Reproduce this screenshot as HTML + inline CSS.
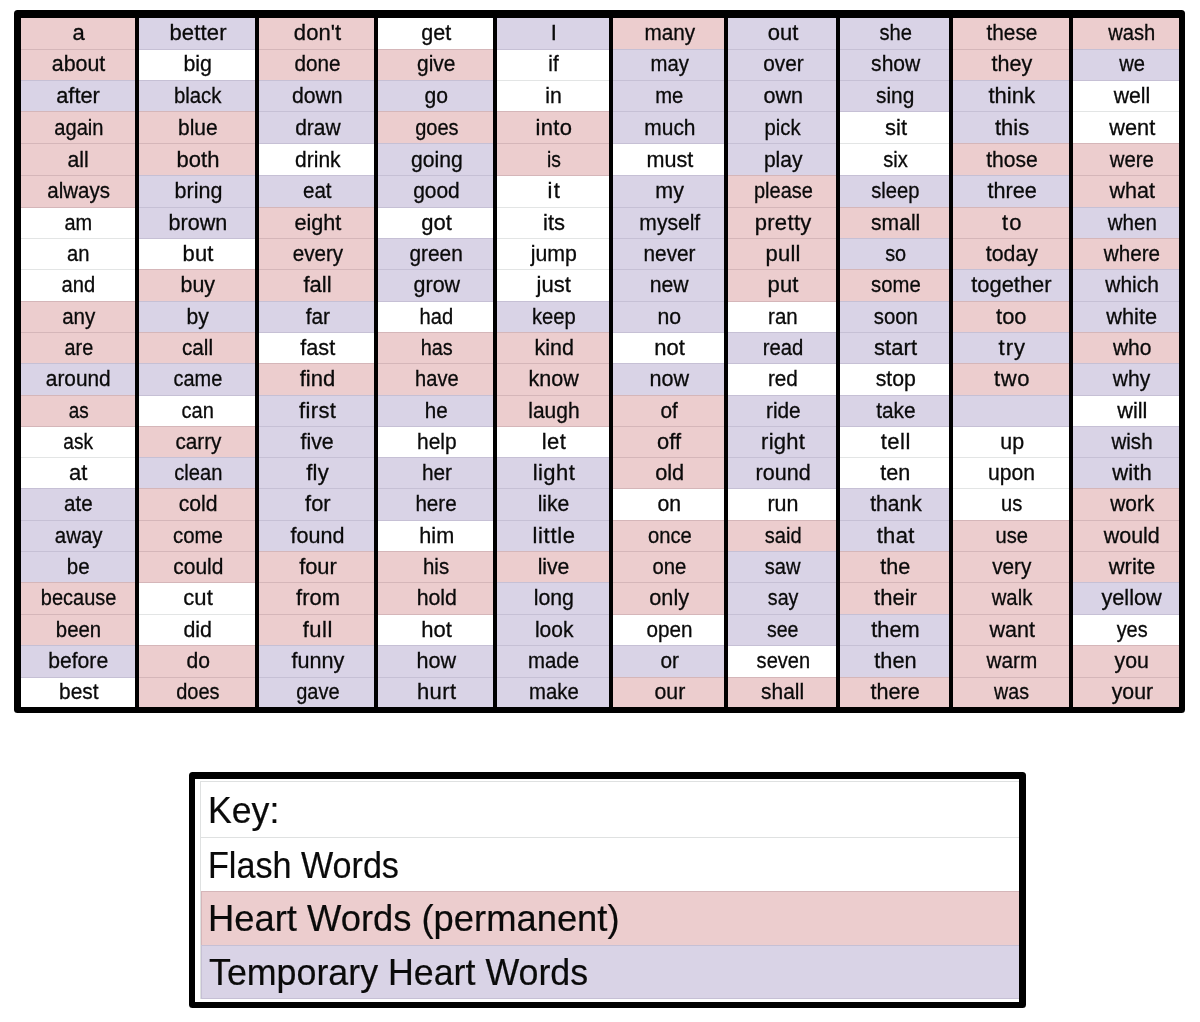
<!DOCTYPE html>
<html><head><meta charset="utf-8"><style>
html,body{margin:0;padding:0;background:#fff;width:1200px;height:1022px;overflow:hidden}
body{position:relative;will-change:transform;font-family:"Liberation Sans",sans-serif;color:#0a0a0a}
.frame{position:absolute;left:14px;top:10px;width:1171px;height:703px;background:#000;border-radius:3.5px}
.c{position:absolute;display:flex;align-items:center;justify-content:center;font-size:22px;overflow:hidden}
.c span{display:block;-webkit-text-stroke:0.3px #0a0a0a;white-space:nowrap;line-height:1;position:relative;top:0px}
.c i{position:absolute;left:0;right:0;top:0;height:1px}
.key{position:absolute;left:189px;top:772px;width:837px;height:236px;background:#000;border-radius:3.5px}
.kin{position:absolute;left:195px;top:779px;width:824px;height:223px;background:#fff}
.kr{position:absolute;left:201px;width:818px;font-size:36px;line-height:1;box-sizing:border-box}
.kr span{-webkit-text-stroke:0.2px #0a0a0a;position:absolute;left:7px;white-space:nowrap;transform-origin:0 50%}
</style></head><body>
<div class="frame"></div>
<div class="c" style="left:21px;top:18.00px;width:114px;height:31.00px;background:#eccdce"><span style="left:0.5px;top:-0.15px;transform:scaleX(1.000)">a</span></div><div class="c" style="left:21px;top:49.00px;width:114px;height:31.00px;background:#eccdce"><span style="left:0.5px;top:-0.05px;transform:scaleX(0.973)">about</span><i style="background:#d5b6b9"></i></div><div class="c" style="left:21px;top:80.00px;width:114px;height:31.00px;background:#d9d3e6"><span style="left:0.5px;top:0.15px;transform:scaleX(0.990)">after</span><i style="background:#c6c0d5"></i></div><div class="c" style="left:21px;top:111.00px;width:114px;height:32.00px;background:#eccdce"><span style="left:0.5px;top:0.50px;transform:scaleX(0.914)">again</span><i style="background:#d5b6b9"></i></div><div class="c" style="left:21px;top:143.00px;width:114px;height:32.00px;background:#eccdce"><span style="left:0.5px;top:0.55px;transform:scaleX(0.964)">all</span><i style="background:#d5b6b9"></i></div><div class="c" style="left:21px;top:175.00px;width:114px;height:32.00px;background:#eccdce"><span style="left:0.5px;top:0.10px;transform:scaleX(0.933)">always</span><i style="background:#d5b6b9"></i></div><div class="c" style="left:21px;top:207.00px;width:114px;height:31.00px;background:#ffffff"><span style="left:0.5px;top:0.00px;transform:scaleX(0.906)">am</span><i style="background:#d5b6b9"></i></div><div class="c" style="left:21px;top:238.00px;width:114px;height:31.00px;background:#ffffff"><span style="left:0.5px;top:0.30px;transform:scaleX(0.918)">an</span><i style="background:#e3e5e5"></i></div><div class="c" style="left:21px;top:269.00px;width:114px;height:32.00px;background:#ffffff"><span style="left:0.5px;top:0.20px;transform:scaleX(0.916)">and</span><i style="background:#e3e5e5"></i></div><div class="c" style="left:21px;top:301.00px;width:114px;height:31.00px;background:#eccdce"><span style="left:0.5px;top:0.12px;transform:scaleX(0.935)">any</span><i style="background:#d5b6b9"></i></div><div class="c" style="left:21px;top:332.00px;width:114px;height:31.00px;background:#eccdce"><span style="left:0.5px;top:0.48px;transform:scaleX(0.898)">are</span><i style="background:#d5b6b9"></i></div><div class="c" style="left:21px;top:363.00px;width:114px;height:32.00px;background:#d9d3e6"><span style="left:0.5px;top:0.30px;transform:scaleX(0.947)">around</span><i style="background:#c6c0d5"></i></div><div class="c" style="left:21px;top:395.00px;width:114px;height:31.00px;background:#eccdce"><span style="left:0.5px;top:0.05px;transform:scaleX(0.860)">as</span><i style="background:#d5b6b9"></i></div><div class="c" style="left:21px;top:426.00px;width:114px;height:31.00px;background:#ffffff"><span style="left:0.5px;top:0.15px;transform:scaleX(0.867)">ask</span><i style="background:#d5b6b9"></i></div><div class="c" style="left:21px;top:457.00px;width:114px;height:31.00px;background:#ffffff"><span style="left:0.5px;top:0.38px;transform:scaleX(0.999)">at</span><i style="background:#e3e5e5"></i></div><div class="c" style="left:21px;top:488.00px;width:114px;height:32.00px;background:#d9d3e6"><span style="left:0.5px;top:0.33px;transform:scaleX(0.934)">ate</span><i style="background:#c6c0d5"></i></div><div class="c" style="left:21px;top:520.00px;width:114px;height:31.00px;background:#d9d3e6"><span style="left:0.5px;top:0.20px;transform:scaleX(0.928)">away</span><i style="background:#c6c0d5"></i></div><div class="c" style="left:21px;top:551.00px;width:114px;height:31.00px;background:#d9d3e6"><span style="left:0.5px;top:0.50px;transform:scaleX(0.931)">be</span><i style="background:#c6c0d5"></i></div><div class="c" style="left:21px;top:582.00px;width:114px;height:32.00px;background:#eccdce"><span style="left:0.5px;top:0.25px;transform:scaleX(0.907)">because</span><i style="background:#d5b6b9"></i></div><div class="c" style="left:21px;top:614.00px;width:114px;height:31.00px;background:#eccdce"><span style="left:0.5px;top:0.05px;transform:scaleX(0.925)">been</span><i style="background:#d5b6b9"></i></div><div class="c" style="left:21px;top:645.00px;width:114px;height:32.00px;background:#d9d3e6"><span style="left:0.5px;top:0.05px;transform:scaleX(0.961)">before</span><i style="background:#c6c0d5"></i></div><div class="c" style="left:21px;top:677.00px;width:114px;height:30.00px;background:#ffffff"><span style="left:0.5px;top:-0.15px;transform:scaleX(0.950)">best</span><i style="background:#c6c0d5"></i></div><div class="c" style="left:139px;top:18.00px;width:116px;height:31.00px;background:#d9d3e6"><span style="left:1px;top:-0.15px;letter-spacing:0.19px;margin-right:-0.19px">better</span></div><div class="c" style="left:139px;top:49.00px;width:116px;height:31.00px;background:#ffffff"><span style="left:1px;top:-0.05px;transform:scaleX(0.972)">big</span><i style="background:#c6c0d5"></i></div><div class="c" style="left:139px;top:80.00px;width:116px;height:31.00px;background:#d9d3e6"><span style="left:1px;top:0.15px;transform:scaleX(0.925)">black</span><i style="background:#c6c0d5"></i></div><div class="c" style="left:139px;top:111.00px;width:116px;height:32.00px;background:#eccdce"><span style="left:1px;top:0.50px;transform:scaleX(0.951)">blue</span><i style="background:#d5b6b9"></i></div><div class="c" style="left:139px;top:143.00px;width:116px;height:32.00px;background:#eccdce"><span style="left:1px;top:0.55px;letter-spacing:0.00px;margin-right:-0.00px">both</span><i style="background:#d5b6b9"></i></div><div class="c" style="left:139px;top:175.00px;width:116px;height:32.00px;background:#d9d3e6"><span style="left:1px;top:0.10px;transform:scaleX(0.978)">bring</span><i style="background:#c6c0d5"></i></div><div class="c" style="left:139px;top:207.00px;width:116px;height:31.00px;background:#d9d3e6"><span style="left:1px;top:0.00px;transform:scaleX(0.980)">brown</span><i style="background:#c6c0d5"></i></div><div class="c" style="left:139px;top:238.00px;width:116px;height:31.00px;background:#ffffff"><span style="left:1px;top:0.30px;letter-spacing:0.16px;margin-right:-0.16px">but</span><i style="background:#c6c0d5"></i></div><div class="c" style="left:139px;top:269.00px;width:116px;height:32.00px;background:#eccdce"><span style="left:1px;top:0.20px;transform:scaleX(0.974)">buy</span><i style="background:#d5b6b9"></i></div><div class="c" style="left:139px;top:301.00px;width:116px;height:31.00px;background:#d9d3e6"><span style="left:1px;top:0.12px;transform:scaleX(0.961)">by</span><i style="background:#c6c0d5"></i></div><div class="c" style="left:139px;top:332.00px;width:116px;height:31.00px;background:#eccdce"><span style="left:1px;top:0.48px;transform:scaleX(0.942)">call</span><i style="background:#d5b6b9"></i></div><div class="c" style="left:139px;top:363.00px;width:116px;height:32.00px;background:#d9d3e6"><span style="left:1px;top:0.30px;transform:scaleX(0.906)">came</span><i style="background:#c6c0d5"></i></div><div class="c" style="left:139px;top:395.00px;width:116px;height:31.00px;background:#ffffff"><span style="left:1px;top:0.05px;transform:scaleX(0.912)">can</span><i style="background:#c6c0d5"></i></div><div class="c" style="left:139px;top:426.00px;width:116px;height:31.00px;background:#eccdce"><span style="left:1px;top:0.15px;transform:scaleX(0.941)">carry</span><i style="background:#d5b6b9"></i></div><div class="c" style="left:139px;top:457.00px;width:116px;height:31.00px;background:#d9d3e6"><span style="left:1px;top:0.38px;transform:scaleX(0.914)">clean</span><i style="background:#c6c0d5"></i></div><div class="c" style="left:139px;top:488.00px;width:116px;height:32.00px;background:#eccdce"><span style="left:1px;top:0.33px;transform:scaleX(0.963)">cold</span><i style="background:#d5b6b9"></i></div><div class="c" style="left:139px;top:520.00px;width:116px;height:31.00px;background:#eccdce"><span style="left:1px;top:0.20px;transform:scaleX(0.927)">come</span><i style="background:#d5b6b9"></i></div><div class="c" style="left:139px;top:551.00px;width:116px;height:31.00px;background:#eccdce"><span style="left:1px;top:0.50px;transform:scaleX(0.953)">could</span><i style="background:#d5b6b9"></i></div><div class="c" style="left:139px;top:582.00px;width:116px;height:32.00px;background:#ffffff"><span style="left:1px;top:0.25px;letter-spacing:0.16px;margin-right:-0.16px">cut</span><i style="background:#d5b6b9"></i></div><div class="c" style="left:139px;top:614.00px;width:116px;height:31.00px;background:#ffffff"><span style="left:1px;top:0.05px;transform:scaleX(0.972)">did</span><i style="background:#e3e5e5"></i></div><div class="c" style="left:139px;top:645.00px;width:116px;height:32.00px;background:#eccdce"><span style="left:1px;top:0.05px;transform:scaleX(0.961)">do</span><i style="background:#d5b6b9"></i></div><div class="c" style="left:139px;top:677.00px;width:116px;height:30.00px;background:#eccdce"><span style="left:1px;top:-0.15px;transform:scaleX(0.909)">does</span><i style="background:#d5b6b9"></i></div><div class="c" style="left:259px;top:18.00px;width:115px;height:31.00px;background:#eccdce"><span style="left:1px;top:-0.15px;letter-spacing:0.08px;margin-right:-0.08px">don't</span></div><div class="c" style="left:259px;top:49.00px;width:115px;height:31.00px;background:#eccdce"><span style="left:1px;top:-0.05px;transform:scaleX(0.939)">done</span><i style="background:#d5b6b9"></i></div><div class="c" style="left:259px;top:80.00px;width:115px;height:31.00px;background:#d9d3e6"><span style="left:1px;top:0.15px;transform:scaleX(0.964)">down</span><i style="background:#c6c0d5"></i></div><div class="c" style="left:259px;top:111.00px;width:115px;height:32.00px;background:#d9d3e6"><span style="left:1px;top:0.50px;transform:scaleX(0.952)">draw</span><i style="background:#c6c0d5"></i></div><div class="c" style="left:259px;top:143.00px;width:115px;height:32.00px;background:#ffffff"><span style="left:1px;top:0.55px;transform:scaleX(0.954)">drink</span><i style="background:#c6c0d5"></i></div><div class="c" style="left:259px;top:175.00px;width:115px;height:32.00px;background:#d9d3e6"><span style="left:1px;top:0.10px;transform:scaleX(0.934)">eat</span><i style="background:#c6c0d5"></i></div><div class="c" style="left:259px;top:207.00px;width:115px;height:31.00px;background:#eccdce"><span style="left:1px;top:0.00px;transform:scaleX(0.983)">eight</span><i style="background:#d5b6b9"></i></div><div class="c" style="left:259px;top:238.00px;width:115px;height:31.00px;background:#eccdce"><span style="left:1px;top:0.30px;transform:scaleX(0.937)">every</span><i style="background:#d5b6b9"></i></div><div class="c" style="left:259px;top:269.00px;width:115px;height:32.00px;background:#eccdce"><span style="left:1px;top:0.20px;letter-spacing:0.02px;margin-right:-0.02px">fall</span><i style="background:#d5b6b9"></i></div><div class="c" style="left:259px;top:301.00px;width:115px;height:31.00px;background:#d9d3e6"><span style="left:1px;top:0.12px;transform:scaleX(0.947)">far</span><i style="background:#c6c0d5"></i></div><div class="c" style="left:259px;top:332.00px;width:115px;height:31.00px;background:#ffffff"><span style="left:1px;top:0.48px;transform:scaleX(0.983)">fast</span><i style="background:#c6c0d5"></i></div><div class="c" style="left:259px;top:363.00px;width:115px;height:32.00px;background:#eccdce"><span style="left:1px;top:0.30px;letter-spacing:0.04px;margin-right:-0.04px">find</span><i style="background:#d5b6b9"></i></div><div class="c" style="left:259px;top:395.00px;width:115px;height:31.00px;background:#d9d3e6"><span style="left:1px;top:0.05px;letter-spacing:0.39px;margin-right:-0.39px">first</span><i style="background:#c6c0d5"></i></div><div class="c" style="left:259px;top:426.00px;width:115px;height:31.00px;background:#d9d3e6"><span style="left:1px;top:0.15px;transform:scaleX(0.969)">five</span><i style="background:#c6c0d5"></i></div><div class="c" style="left:259px;top:457.00px;width:115px;height:31.00px;background:#d9d3e6"><span style="left:1px;top:0.38px;letter-spacing:0.32px;margin-right:-0.32px">fly</span><i style="background:#c6c0d5"></i></div><div class="c" style="left:259px;top:488.00px;width:115px;height:32.00px;background:#d9d3e6"><span style="left:1px;top:0.33px;transform:scaleX(0.991)">for</span><i style="background:#c6c0d5"></i></div><div class="c" style="left:259px;top:520.00px;width:115px;height:31.00px;background:#d9d3e6"><span style="left:1px;top:0.20px;transform:scaleX(0.979)">found</span><i style="background:#c6c0d5"></i></div><div class="c" style="left:259px;top:551.00px;width:115px;height:31.00px;background:#eccdce"><span style="left:1px;top:0.50px;transform:scaleX(0.993)">four</span><i style="background:#d5b6b9"></i></div><div class="c" style="left:259px;top:582.00px;width:115px;height:32.00px;background:#eccdce"><span style="left:1px;top:0.25px;transform:scaleX(0.996)">from</span><i style="background:#d5b6b9"></i></div><div class="c" style="left:259px;top:614.00px;width:115px;height:31.00px;background:#eccdce"><span style="left:1px;top:0.05px;letter-spacing:0.50px;margin-right:-0.50px">full</span><i style="background:#d5b6b9"></i></div><div class="c" style="left:259px;top:645.00px;width:115px;height:32.00px;background:#d9d3e6"><span style="left:1px;top:0.05px;transform:scaleX(0.982)">funny</span><i style="background:#c6c0d5"></i></div><div class="c" style="left:259px;top:677.00px;width:115px;height:30.00px;background:#d9d3e6"><span style="left:1px;top:-0.15px;transform:scaleX(0.908)">gave</span><i style="background:#c6c0d5"></i></div><div class="c" style="left:378px;top:18.00px;width:115px;height:31.00px;background:#ffffff"><span style="left:1px;top:-0.15px;transform:scaleX(0.978)">get</span></div><div class="c" style="left:378px;top:49.00px;width:115px;height:31.00px;background:#eccdce"><span style="left:1px;top:-0.05px;transform:scaleX(0.949)">give</span><i style="background:#d5b6b9"></i></div><div class="c" style="left:378px;top:80.00px;width:115px;height:31.00px;background:#d9d3e6"><span style="left:1px;top:0.15px;transform:scaleX(0.961)">go</span><i style="background:#c6c0d5"></i></div><div class="c" style="left:378px;top:111.00px;width:115px;height:32.00px;background:#eccdce"><span style="left:1px;top:0.50px;transform:scaleX(0.909)">goes</span><i style="background:#d5b6b9"></i></div><div class="c" style="left:378px;top:143.00px;width:115px;height:32.00px;background:#d9d3e6"><span style="left:1px;top:0.55px;transform:scaleX(0.960)">going</span><i style="background:#c6c0d5"></i></div><div class="c" style="left:378px;top:175.00px;width:115px;height:32.00px;background:#d9d3e6"><span style="left:1px;top:0.10px;transform:scaleX(0.951)">good</span><i style="background:#c6c0d5"></i></div><div class="c" style="left:378px;top:207.00px;width:115px;height:31.00px;background:#ffffff"><span style="left:1px;top:0.00px;letter-spacing:0.01px;margin-right:-0.01px">got</span><i style="background:#c6c0d5"></i></div><div class="c" style="left:378px;top:238.00px;width:115px;height:31.00px;background:#d9d3e6"><span style="left:1px;top:0.30px;transform:scaleX(0.947)">green</span><i style="background:#c6c0d5"></i></div><div class="c" style="left:378px;top:269.00px;width:115px;height:32.00px;background:#d9d3e6"><span style="left:1px;top:0.20px;transform:scaleX(0.976)">grow</span><i style="background:#c6c0d5"></i></div><div class="c" style="left:378px;top:301.00px;width:115px;height:31.00px;background:#ffffff"><span style="left:1px;top:0.12px;transform:scaleX(0.916)">had</span><i style="background:#c6c0d5"></i></div><div class="c" style="left:378px;top:332.00px;width:115px;height:31.00px;background:#eccdce"><span style="left:1px;top:0.48px;transform:scaleX(0.903)">has</span><i style="background:#d5b6b9"></i></div><div class="c" style="left:378px;top:363.00px;width:115px;height:32.00px;background:#eccdce"><span style="left:1px;top:0.30px;transform:scaleX(0.911)">have</span><i style="background:#d5b6b9"></i></div><div class="c" style="left:378px;top:395.00px;width:115px;height:31.00px;background:#d9d3e6"><span style="left:1px;top:0.05px;transform:scaleX(0.936)">he</span><i style="background:#c6c0d5"></i></div><div class="c" style="left:378px;top:426.00px;width:115px;height:31.00px;background:#ffffff"><span style="left:1px;top:0.15px;transform:scaleX(0.951)">help</span><i style="background:#c6c0d5"></i></div><div class="c" style="left:378px;top:457.00px;width:115px;height:31.00px;background:#d9d3e6"><span style="left:1px;top:0.38px;transform:scaleX(0.944)">her</span><i style="background:#c6c0d5"></i></div><div class="c" style="left:378px;top:488.00px;width:115px;height:32.00px;background:#d9d3e6"><span style="left:1px;top:0.33px;transform:scaleX(0.936)">here</span><i style="background:#c6c0d5"></i></div><div class="c" style="left:378px;top:520.00px;width:115px;height:31.00px;background:#ffffff"><span style="left:1px;top:0.20px;transform:scaleX(0.984)">him</span><i style="background:#c6c0d5"></i></div><div class="c" style="left:378px;top:551.00px;width:115px;height:31.00px;background:#eccdce"><span style="left:1px;top:0.50px;transform:scaleX(0.928)">his</span><i style="background:#d5b6b9"></i></div><div class="c" style="left:378px;top:582.00px;width:115px;height:32.00px;background:#eccdce"><span style="left:1px;top:0.25px;transform:scaleX(0.968)">hold</span><i style="background:#d5b6b9"></i></div><div class="c" style="left:378px;top:614.00px;width:115px;height:31.00px;background:#ffffff"><span style="left:1px;top:0.05px;letter-spacing:0.06px;margin-right:-0.06px">hot</span><i style="background:#d5b6b9"></i></div><div class="c" style="left:378px;top:645.00px;width:115px;height:32.00px;background:#d9d3e6"><span style="left:1px;top:0.05px;transform:scaleX(0.980)">how</span><i style="background:#c6c0d5"></i></div><div class="c" style="left:378px;top:677.00px;width:115px;height:30.00px;background:#d9d3e6"><span style="left:1px;top:-0.15px;letter-spacing:0.39px;margin-right:-0.39px">hurt</span><i style="background:#c6c0d5"></i></div><div class="c" style="left:496.5px;top:18.00px;width:112.5px;height:31.00px;background:#d9d3e6"><span style="left:1px;top:-0.15px;transform:scaleX(1.000)">I</span></div><div class="c" style="left:496.5px;top:49.00px;width:112.5px;height:31.00px;background:#ffffff"><span style="left:1px;top:-0.05px;transform:scaleX(0.937)">if</span><i style="background:#c6c0d5"></i></div><div class="c" style="left:496.5px;top:80.00px;width:112.5px;height:31.00px;background:#ffffff"><span style="left:1px;top:0.15px;transform:scaleX(0.965)">in</span><i style="background:#e3e5e5"></i></div><div class="c" style="left:496.5px;top:111.00px;width:112.5px;height:32.00px;background:#eccdce"><span style="left:1px;top:0.50px;letter-spacing:0.34px;margin-right:-0.34px">into</span><i style="background:#d5b6b9"></i></div><div class="c" style="left:496.5px;top:143.00px;width:112.5px;height:32.00px;background:#eccdce"><span style="left:1px;top:0.55px;transform:scaleX(0.876)">is</span><i style="background:#d5b6b9"></i></div><div class="c" style="left:496.5px;top:175.00px;width:112.5px;height:32.00px;background:#ffffff"><span style="left:1px;top:0.10px;letter-spacing:1.37px;margin-right:-1.37px">it</span><i style="background:#d5b6b9"></i></div><div class="c" style="left:496.5px;top:207.00px;width:112.5px;height:31.00px;background:#ffffff"><span style="left:1px;top:0.00px;transform:scaleX(0.998)">its</span><i style="background:#e3e5e5"></i></div><div class="c" style="left:496.5px;top:238.00px;width:112.5px;height:31.00px;background:#ffffff"><span style="left:1px;top:0.30px;transform:scaleX(0.969)">jump</span><i style="background:#e3e5e5"></i></div><div class="c" style="left:496.5px;top:269.00px;width:112.5px;height:32.00px;background:#ffffff"><span style="left:1px;top:0.20px;letter-spacing:0.04px;margin-right:-0.04px">just</span><i style="background:#e3e5e5"></i></div><div class="c" style="left:496.5px;top:301.00px;width:112.5px;height:31.00px;background:#d9d3e6"><span style="left:1px;top:0.12px;transform:scaleX(0.917)">keep</span><i style="background:#c6c0d5"></i></div><div class="c" style="left:496.5px;top:332.00px;width:112.5px;height:31.00px;background:#eccdce"><span style="left:1px;top:0.48px;transform:scaleX(0.975)">kind</span><i style="background:#d5b6b9"></i></div><div class="c" style="left:496.5px;top:363.00px;width:112.5px;height:32.00px;background:#eccdce"><span style="left:1px;top:0.30px;transform:scaleX(0.979)">know</span><i style="background:#d5b6b9"></i></div><div class="c" style="left:496.5px;top:395.00px;width:112.5px;height:31.00px;background:#eccdce"><span style="left:1px;top:0.05px;transform:scaleX(0.953)">laugh</span><i style="background:#d5b6b9"></i></div><div class="c" style="left:496.5px;top:426.00px;width:112.5px;height:31.00px;background:#ffffff"><span style="left:1px;top:0.15px;letter-spacing:0.50px;margin-right:-0.50px">let</span><i style="background:#d5b6b9"></i></div><div class="c" style="left:496.5px;top:457.00px;width:112.5px;height:31.00px;background:#d9d3e6"><span style="left:1px;top:0.38px;letter-spacing:0.46px;margin-right:-0.46px">light</span><i style="background:#c6c0d5"></i></div><div class="c" style="left:496.5px;top:488.00px;width:112.5px;height:32.00px;background:#d9d3e6"><span style="left:1px;top:0.33px;transform:scaleX(0.960)">like</span><i style="background:#c6c0d5"></i></div><div class="c" style="left:496.5px;top:520.00px;width:112.5px;height:31.00px;background:#d9d3e6"><span style="left:1px;top:0.20px;letter-spacing:0.69px;margin-right:-0.69px">little</span><i style="background:#c6c0d5"></i></div><div class="c" style="left:496.5px;top:551.00px;width:112.5px;height:31.00px;background:#eccdce"><span style="left:1px;top:0.50px;transform:scaleX(0.960)">live</span><i style="background:#d5b6b9"></i></div><div class="c" style="left:496.5px;top:582.00px;width:112.5px;height:32.00px;background:#d9d3e6"><span style="left:1px;top:0.25px;transform:scaleX(0.968)">long</span><i style="background:#c6c0d5"></i></div><div class="c" style="left:496.5px;top:614.00px;width:112.5px;height:31.00px;background:#d9d3e6"><span style="left:1px;top:0.05px;transform:scaleX(0.955)">look</span><i style="background:#c6c0d5"></i></div><div class="c" style="left:496.5px;top:645.00px;width:112.5px;height:32.00px;background:#d9d3e6"><span style="left:1px;top:0.05px;transform:scaleX(0.926)">made</span><i style="background:#c6c0d5"></i></div><div class="c" style="left:496.5px;top:677.00px;width:112.5px;height:30.00px;background:#d9d3e6"><span style="left:1px;top:-0.15px;transform:scaleX(0.922)">make</span><i style="background:#c6c0d5"></i></div><div class="c" style="left:613px;top:18.00px;width:111px;height:31.00px;background:#eccdce"><span style="left:1px;top:-0.15px;transform:scaleX(0.941)">many</span></div><div class="c" style="left:613px;top:49.00px;width:111px;height:31.00px;background:#d9d3e6"><span style="left:1px;top:-0.05px;transform:scaleX(0.924)">may</span><i style="background:#c6c0d5"></i></div><div class="c" style="left:613px;top:80.00px;width:111px;height:31.00px;background:#d9d3e6"><span style="left:1px;top:0.15px;transform:scaleX(0.920)">me</span><i style="background:#c6c0d5"></i></div><div class="c" style="left:613px;top:111.00px;width:111px;height:32.00px;background:#d9d3e6"><span style="left:1px;top:0.50px;transform:scaleX(0.952)">much</span><i style="background:#c6c0d5"></i></div><div class="c" style="left:613px;top:143.00px;width:111px;height:32.00px;background:#ffffff"><span style="left:1px;top:0.55px;transform:scaleX(0.981)">must</span><i style="background:#c6c0d5"></i></div><div class="c" style="left:613px;top:175.00px;width:111px;height:32.00px;background:#d9d3e6"><span style="left:1px;top:0.10px;transform:scaleX(0.975)">my</span><i style="background:#c6c0d5"></i></div><div class="c" style="left:613px;top:207.00px;width:111px;height:31.00px;background:#d9d3e6"><span style="left:1px;top:0.00px;transform:scaleX(0.957)">myself</span><i style="background:#c6c0d5"></i></div><div class="c" style="left:613px;top:238.00px;width:111px;height:31.00px;background:#d9d3e6"><span style="left:1px;top:0.30px;transform:scaleX(0.943)">never</span><i style="background:#c6c0d5"></i></div><div class="c" style="left:613px;top:269.00px;width:111px;height:32.00px;background:#d9d3e6"><span style="left:1px;top:0.20px;transform:scaleX(0.962)">new</span><i style="background:#c6c0d5"></i></div><div class="c" style="left:613px;top:301.00px;width:111px;height:31.00px;background:#d9d3e6"><span style="left:1px;top:0.12px;transform:scaleX(0.965)">no</span><i style="background:#c6c0d5"></i></div><div class="c" style="left:613px;top:332.00px;width:111px;height:31.00px;background:#ffffff"><span style="left:1px;top:0.48px;letter-spacing:0.06px;margin-right:-0.06px">not</span><i style="background:#c6c0d5"></i></div><div class="c" style="left:613px;top:363.00px;width:111px;height:32.00px;background:#d9d3e6"><span style="left:1px;top:0.30px;transform:scaleX(0.980)">now</span><i style="background:#c6c0d5"></i></div><div class="c" style="left:613px;top:395.00px;width:111px;height:31.00px;background:#eccdce"><span style="left:1px;top:0.05px;transform:scaleX(0.948)">of</span><i style="background:#d5b6b9"></i></div><div class="c" style="left:613px;top:426.00px;width:111px;height:31.00px;background:#eccdce"><span style="left:1px;top:0.15px;transform:scaleX(0.994)">off</span><i style="background:#d5b6b9"></i></div><div class="c" style="left:613px;top:457.00px;width:111px;height:31.00px;background:#eccdce"><span style="left:1px;top:0.38px;transform:scaleX(0.988)">old</span><i style="background:#d5b6b9"></i></div><div class="c" style="left:613px;top:488.00px;width:111px;height:32.00px;background:#ffffff"><span style="left:1px;top:0.33px;transform:scaleX(0.965)">on</span><i style="background:#d5b6b9"></i></div><div class="c" style="left:613px;top:520.00px;width:111px;height:31.00px;background:#eccdce"><span style="left:1px;top:0.20px;transform:scaleX(0.917)">once</span><i style="background:#d5b6b9"></i></div><div class="c" style="left:613px;top:551.00px;width:111px;height:31.00px;background:#eccdce"><span style="left:1px;top:0.50px;transform:scaleX(0.922)">one</span><i style="background:#d5b6b9"></i></div><div class="c" style="left:613px;top:582.00px;width:111px;height:32.00px;background:#eccdce"><span style="left:1px;top:0.25px;transform:scaleX(0.987)">only</span><i style="background:#d5b6b9"></i></div><div class="c" style="left:613px;top:614.00px;width:111px;height:31.00px;background:#ffffff"><span style="left:1px;top:0.05px;transform:scaleX(0.939)">open</span><i style="background:#d5b6b9"></i></div><div class="c" style="left:613px;top:645.00px;width:111px;height:32.00px;background:#d9d3e6"><span style="left:1px;top:0.05px;transform:scaleX(0.946)">or</span><i style="background:#c6c0d5"></i></div><div class="c" style="left:613px;top:677.00px;width:111px;height:30.00px;background:#eccdce"><span style="left:1px;top:-0.15px;transform:scaleX(0.966)">our</span><i style="background:#d5b6b9"></i></div><div class="c" style="left:728px;top:18.00px;width:108px;height:31.00px;background:#d9d3e6"><span style="left:1px;top:-0.15px;letter-spacing:0.06px;margin-right:-0.06px">out</span></div><div class="c" style="left:728px;top:49.00px;width:108px;height:31.00px;background:#d9d3e6"><span style="left:1px;top:-0.05px;transform:scaleX(0.944)">over</span><i style="background:#c6c0d5"></i></div><div class="c" style="left:728px;top:80.00px;width:108px;height:31.00px;background:#d9d3e6"><span style="left:1px;top:0.15px;transform:scaleX(0.980)">own</span><i style="background:#c6c0d5"></i></div><div class="c" style="left:728px;top:111.00px;width:108px;height:32.00px;background:#d9d3e6"><span style="left:1px;top:0.50px;transform:scaleX(0.922)">pick</span><i style="background:#c6c0d5"></i></div><div class="c" style="left:728px;top:143.00px;width:108px;height:32.00px;background:#d9d3e6"><span style="left:1px;top:0.55px;transform:scaleX(0.956)">play</span><i style="background:#c6c0d5"></i></div><div class="c" style="left:728px;top:175.00px;width:108px;height:32.00px;background:#eccdce"><span style="left:1px;top:0.10px;transform:scaleX(0.908)">please</span><i style="background:#d5b6b9"></i></div><div class="c" style="left:728px;top:207.00px;width:108px;height:31.00px;background:#eccdce"><span style="left:1px;top:0.00px;letter-spacing:0.34px;margin-right:-0.34px">pretty</span><i style="background:#d5b6b9"></i></div><div class="c" style="left:728px;top:238.00px;width:108px;height:31.00px;background:#eccdce"><span style="left:1px;top:0.30px;letter-spacing:0.18px;margin-right:-0.18px">pull</span><i style="background:#d5b6b9"></i></div><div class="c" style="left:728px;top:269.00px;width:108px;height:32.00px;background:#eccdce"><span style="left:1px;top:0.20px;letter-spacing:0.16px;margin-right:-0.16px">put</span><i style="background:#d5b6b9"></i></div><div class="c" style="left:728px;top:301.00px;width:108px;height:31.00px;background:#ffffff"><span style="left:1px;top:0.12px;transform:scaleX(0.930)">ran</span><i style="background:#d5b6b9"></i></div><div class="c" style="left:728px;top:332.00px;width:108px;height:31.00px;background:#d9d3e6"><span style="left:1px;top:0.48px;transform:scaleX(0.923)">read</span><i style="background:#c6c0d5"></i></div><div class="c" style="left:728px;top:363.00px;width:108px;height:32.00px;background:#ffffff"><span style="left:1px;top:0.30px;transform:scaleX(0.941)">red</span><i style="background:#c6c0d5"></i></div><div class="c" style="left:728px;top:395.00px;width:108px;height:31.00px;background:#d9d3e6"><span style="left:1px;top:0.05px;transform:scaleX(0.946)">ride</span><i style="background:#c6c0d5"></i></div><div class="c" style="left:728px;top:426.00px;width:108px;height:31.00px;background:#d9d3e6"><span style="left:1px;top:0.15px;letter-spacing:0.25px;margin-right:-0.25px">right</span><i style="background:#c6c0d5"></i></div><div class="c" style="left:728px;top:457.00px;width:108px;height:31.00px;background:#d9d3e6"><span style="left:1px;top:0.38px;transform:scaleX(0.978)">round</span><i style="background:#c6c0d5"></i></div><div class="c" style="left:728px;top:488.00px;width:108px;height:32.00px;background:#ffffff"><span style="left:1px;top:0.33px;transform:scaleX(0.976)">run</span><i style="background:#c6c0d5"></i></div><div class="c" style="left:728px;top:520.00px;width:108px;height:31.00px;background:#eccdce"><span style="left:1px;top:0.20px;transform:scaleX(0.911)">said</span><i style="background:#d5b6b9"></i></div><div class="c" style="left:728px;top:551.00px;width:108px;height:31.00px;background:#d9d3e6"><span style="left:1px;top:0.50px;transform:scaleX(0.914)">saw</span><i style="background:#c6c0d5"></i></div><div class="c" style="left:728px;top:582.00px;width:108px;height:32.00px;background:#d9d3e6"><span style="left:1px;top:0.25px;transform:scaleX(0.893)">say</span><i style="background:#c6c0d5"></i></div><div class="c" style="left:728px;top:614.00px;width:108px;height:31.00px;background:#d9d3e6"><span style="left:1px;top:0.05px;transform:scaleX(0.886)">see</span><i style="background:#c6c0d5"></i></div><div class="c" style="left:728px;top:645.00px;width:108px;height:32.00px;background:#ffffff"><span style="left:1px;top:0.05px;transform:scaleX(0.911)">seven</span><i style="background:#c6c0d5"></i></div><div class="c" style="left:728px;top:677.00px;width:108px;height:30.00px;background:#eccdce"><span style="left:1px;top:-0.15px;transform:scaleX(0.951)">shall</span><i style="background:#d5b6b9"></i></div><div class="c" style="left:840px;top:18.00px;width:109px;height:31.00px;background:#d9d3e6"><span style="left:1px;top:-0.15px;transform:scaleX(0.916)">she</span></div><div class="c" style="left:840px;top:49.00px;width:109px;height:31.00px;background:#d9d3e6"><span style="left:1px;top:-0.05px;transform:scaleX(0.957)">show</span><i style="background:#c6c0d5"></i></div><div class="c" style="left:840px;top:80.00px;width:109px;height:31.00px;background:#d9d3e6"><span style="left:1px;top:0.15px;transform:scaleX(0.947)">sing</span><i style="background:#c6c0d5"></i></div><div class="c" style="left:840px;top:111.00px;width:109px;height:32.00px;background:#ffffff"><span style="left:1px;top:0.50px;transform:scaleX(0.998)">sit</span><i style="background:#c6c0d5"></i></div><div class="c" style="left:840px;top:143.00px;width:109px;height:32.00px;background:#ffffff"><span style="left:1px;top:0.55px;transform:scaleX(0.913)">six</span><i style="background:#e3e5e5"></i></div><div class="c" style="left:840px;top:175.00px;width:109px;height:32.00px;background:#d9d3e6"><span style="left:1px;top:0.10px;transform:scaleX(0.915)">sleep</span><i style="background:#c6c0d5"></i></div><div class="c" style="left:840px;top:207.00px;width:109px;height:31.00px;background:#eccdce"><span style="left:1px;top:0.00px;transform:scaleX(0.958)">small</span><i style="background:#d5b6b9"></i></div><div class="c" style="left:840px;top:238.00px;width:109px;height:31.00px;background:#d9d3e6"><span style="left:1px;top:0.30px;transform:scaleX(0.903)">so</span><i style="background:#c6c0d5"></i></div><div class="c" style="left:840px;top:269.00px;width:109px;height:32.00px;background:#eccdce"><span style="left:1px;top:0.20px;transform:scaleX(0.922)">some</span><i style="background:#d5b6b9"></i></div><div class="c" style="left:840px;top:301.00px;width:109px;height:31.00px;background:#d9d3e6"><span style="left:1px;top:0.12px;transform:scaleX(0.926)">soon</span><i style="background:#c6c0d5"></i></div><div class="c" style="left:840px;top:332.00px;width:109px;height:31.00px;background:#d9d3e6"><span style="left:1px;top:0.48px;letter-spacing:0.07px;margin-right:-0.07px">start</span><i style="background:#c6c0d5"></i></div><div class="c" style="left:840px;top:363.00px;width:109px;height:32.00px;background:#ffffff"><span style="left:1px;top:0.30px;transform:scaleX(0.967)">stop</span><i style="background:#c6c0d5"></i></div><div class="c" style="left:840px;top:395.00px;width:109px;height:31.00px;background:#d9d3e6"><span style="left:1px;top:0.05px;transform:scaleX(0.945)">take</span><i style="background:#c6c0d5"></i></div><div class="c" style="left:840px;top:426.00px;width:109px;height:31.00px;background:#ffffff"><span style="left:1px;top:0.15px;letter-spacing:0.53px;margin-right:-0.53px">tell</span><i style="background:#c6c0d5"></i></div><div class="c" style="left:840px;top:457.00px;width:109px;height:31.00px;background:#ffffff"><span style="left:1px;top:0.38px;transform:scaleX(0.981)">ten</span><i style="background:#e3e5e5"></i></div><div class="c" style="left:840px;top:488.00px;width:109px;height:32.00px;background:#d9d3e6"><span style="left:1px;top:0.33px;transform:scaleX(0.958)">thank</span><i style="background:#c6c0d5"></i></div><div class="c" style="left:840px;top:520.00px;width:109px;height:31.00px;background:#d9d3e6"><span style="left:1px;top:0.20px;letter-spacing:0.31px;margin-right:-0.31px">that</span><i style="background:#c6c0d5"></i></div><div class="c" style="left:840px;top:551.00px;width:109px;height:31.00px;background:#eccdce"><span style="left:1px;top:0.50px;transform:scaleX(0.981)">the</span><i style="background:#d5b6b9"></i></div><div class="c" style="left:840px;top:582.00px;width:109px;height:32.00px;background:#eccdce"><span style="left:1px;top:0.25px;letter-spacing:0.02px;margin-right:-0.02px">their</span><i style="background:#d5b6b9"></i></div><div class="c" style="left:840px;top:614.00px;width:109px;height:31.00px;background:#d9d3e6"><span style="left:1px;top:0.05px;transform:scaleX(0.989)">them</span><i style="background:#c6c0d5"></i></div><div class="c" style="left:840px;top:645.00px;width:109px;height:32.00px;background:#d9d3e6"><span style="left:1px;top:0.05px;transform:scaleX(0.986)">then</span><i style="background:#c6c0d5"></i></div><div class="c" style="left:840px;top:677.00px;width:109px;height:30.00px;background:#eccdce"><span style="left:1px;top:-0.15px;transform:scaleX(0.982)">there</span><i style="background:#d5b6b9"></i></div><div class="c" style="left:952.5px;top:18.00px;width:116.5px;height:31.00px;background:#eccdce"><span style="left:1px;top:-0.15px;transform:scaleX(0.944)">these</span></div><div class="c" style="left:952.5px;top:49.00px;width:116.5px;height:31.00px;background:#eccdce"><span style="left:1px;top:-0.05px;transform:scaleX(0.979)">they</span><i style="background:#d5b6b9"></i></div><div class="c" style="left:952.5px;top:80.00px;width:116.5px;height:31.00px;background:#d9d3e6"><span style="left:1px;top:0.15px;letter-spacing:0.02px;margin-right:-0.02px">think</span><i style="background:#c6c0d5"></i></div><div class="c" style="left:952.5px;top:111.00px;width:116.5px;height:32.00px;background:#d9d3e6"><span style="left:1px;top:0.50px;transform:scaleX(0.999)">this</span><i style="background:#c6c0d5"></i></div><div class="c" style="left:952.5px;top:143.00px;width:116.5px;height:32.00px;background:#eccdce"><span style="left:1px;top:0.55px;transform:scaleX(0.957)">those</span><i style="background:#d5b6b9"></i></div><div class="c" style="left:952.5px;top:175.00px;width:116.5px;height:32.00px;background:#d9d3e6"><span style="left:1px;top:0.10px;transform:scaleX(0.982)">three</span><i style="background:#c6c0d5"></i></div><div class="c" style="left:952.5px;top:207.00px;width:116.5px;height:31.00px;background:#eccdce"><span style="left:1px;top:0.00px;letter-spacing:1.13px;margin-right:-1.13px">to</span><i style="background:#d5b6b9"></i></div><div class="c" style="left:952.5px;top:238.00px;width:116.5px;height:31.00px;background:#eccdce"><span style="left:1px;top:0.30px;transform:scaleX(0.968)">today</span><i style="background:#d5b6b9"></i></div><div class="c" style="left:952.5px;top:269.00px;width:116.5px;height:32.00px;background:#d9d3e6"><span style="left:1px;top:0.20px;transform:scaleX(0.995)">together</span><i style="background:#c6c0d5"></i></div><div class="c" style="left:952.5px;top:301.00px;width:116.5px;height:31.00px;background:#eccdce"><span style="left:1px;top:0.12px;transform:scaleX(0.994)">too</span><i style="background:#d5b6b9"></i></div><div class="c" style="left:952.5px;top:332.00px;width:116.5px;height:31.00px;background:#d9d3e6"><span style="left:1px;top:0.48px;letter-spacing:0.96px;margin-right:-0.96px">try</span><i style="background:#c6c0d5"></i></div><div class="c" style="left:952.5px;top:363.00px;width:116.5px;height:32.00px;background:#eccdce"><span style="left:1px;top:0.30px;letter-spacing:0.58px;margin-right:-0.58px">two</span><i style="background:#d5b6b9"></i></div><div class="c" style="left:952.5px;top:395.00px;width:116.5px;height:31.00px;background:#d9d3e6"><span style="left:1px;top:0.05px;transform:scaleX(1.000)"></span><i style="background:#c6c0d5"></i></div><div class="c" style="left:952.5px;top:426.00px;width:116.5px;height:31.00px;background:#ffffff"><span style="left:1px;top:0.15px;transform:scaleX(0.974)">up</span><i style="background:#c6c0d5"></i></div><div class="c" style="left:952.5px;top:457.00px;width:116.5px;height:31.00px;background:#ffffff"><span style="left:1px;top:0.38px;transform:scaleX(0.960)">upon</span><i style="background:#e3e5e5"></i></div><div class="c" style="left:952.5px;top:488.00px;width:116.5px;height:32.00px;background:#ffffff"><span style="left:1px;top:0.33px;transform:scaleX(0.917)">us</span><i style="background:#e3e5e5"></i></div><div class="c" style="left:952.5px;top:520.00px;width:116.5px;height:31.00px;background:#eccdce"><span style="left:1px;top:0.20px;transform:scaleX(0.916)">use</span><i style="background:#d5b6b9"></i></div><div class="c" style="left:952.5px;top:551.00px;width:116.5px;height:31.00px;background:#eccdce"><span style="left:1px;top:0.50px;transform:scaleX(0.944)">very</span><i style="background:#d5b6b9"></i></div><div class="c" style="left:952.5px;top:582.00px;width:116.5px;height:32.00px;background:#eccdce"><span style="left:1px;top:0.25px;transform:scaleX(0.921)">walk</span><i style="background:#d5b6b9"></i></div><div class="c" style="left:952.5px;top:614.00px;width:116.5px;height:31.00px;background:#eccdce"><span style="left:1px;top:0.05px;transform:scaleX(0.979)">want</span><i style="background:#d5b6b9"></i></div><div class="c" style="left:952.5px;top:645.00px;width:116.5px;height:32.00px;background:#eccdce"><span style="left:1px;top:0.05px;transform:scaleX(0.943)">warm</span><i style="background:#d5b6b9"></i></div><div class="c" style="left:952.5px;top:677.00px;width:116.5px;height:30.00px;background:#eccdce"><span style="left:1px;top:-0.15px;transform:scaleX(0.892)">was</span><i style="background:#d5b6b9"></i></div><div class="c" style="left:1073px;top:18.00px;width:106px;height:31.00px;background:#eccdce"><span style="left:6px;top:-0.15px;transform:scaleX(0.916)">wash</span></div><div class="c" style="left:1073px;top:49.00px;width:106px;height:31.00px;background:#d9d3e6"><span style="left:6px;top:-0.05px;transform:scaleX(0.914)">we</span><i style="background:#c6c0d5"></i></div><div class="c" style="left:1073px;top:80.00px;width:106px;height:31.00px;background:#ffffff"><span style="left:6px;top:0.15px;transform:scaleX(0.966)">well</span><i style="background:#c6c0d5"></i></div><div class="c" style="left:1073px;top:111.00px;width:106px;height:32.00px;background:#ffffff"><span style="left:6px;top:0.50px;transform:scaleX(0.988)">went</span><i style="background:#e3e5e5"></i></div><div class="c" style="left:1073px;top:143.00px;width:106px;height:32.00px;background:#eccdce"><span style="left:6px;top:0.55px;transform:scaleX(0.923)">were</span><i style="background:#d5b6b9"></i></div><div class="c" style="left:1073px;top:175.00px;width:106px;height:32.00px;background:#eccdce"><span style="left:6px;top:0.10px;transform:scaleX(0.979)">what</span><i style="background:#d5b6b9"></i></div><div class="c" style="left:1073px;top:207.00px;width:106px;height:31.00px;background:#d9d3e6"><span style="left:6px;top:0.00px;transform:scaleX(0.935)">when</span><i style="background:#c6c0d5"></i></div><div class="c" style="left:1073px;top:238.00px;width:106px;height:31.00px;background:#eccdce"><span style="left:6px;top:0.30px;transform:scaleX(0.938)">where</span><i style="background:#d5b6b9"></i></div><div class="c" style="left:1073px;top:269.00px;width:106px;height:32.00px;background:#d9d3e6"><span style="left:6px;top:0.20px;transform:scaleX(0.953)">which</span><i style="background:#c6c0d5"></i></div><div class="c" style="left:1073px;top:301.00px;width:106px;height:31.00px;background:#d9d3e6"><span style="left:6px;top:0.12px;transform:scaleX(0.988)">white</span><i style="background:#c6c0d5"></i></div><div class="c" style="left:1073px;top:332.00px;width:106px;height:31.00px;background:#eccdce"><span style="left:6px;top:0.48px;transform:scaleX(0.956)">who</span><i style="background:#d5b6b9"></i></div><div class="c" style="left:1073px;top:363.00px;width:106px;height:32.00px;background:#d9d3e6"><span style="left:6px;top:0.30px;transform:scaleX(0.956)">why</span><i style="background:#c6c0d5"></i></div><div class="c" style="left:1073px;top:395.00px;width:106px;height:31.00px;background:#ffffff"><span style="left:6px;top:0.05px;transform:scaleX(0.988)">will</span><i style="background:#c6c0d5"></i></div><div class="c" style="left:1073px;top:426.00px;width:106px;height:31.00px;background:#d9d3e6"><span style="left:6px;top:0.15px;transform:scaleX(0.934)">wish</span><i style="background:#c6c0d5"></i></div><div class="c" style="left:1073px;top:457.00px;width:106px;height:31.00px;background:#d9d3e6"><span style="left:6px;top:0.38px;letter-spacing:0.13px;margin-right:-0.13px">with</span><i style="background:#c6c0d5"></i></div><div class="c" style="left:1073px;top:488.00px;width:106px;height:32.00px;background:#eccdce"><span style="left:6px;top:0.33px;transform:scaleX(0.951)">work</span><i style="background:#d5b6b9"></i></div><div class="c" style="left:1073px;top:520.00px;width:106px;height:31.00px;background:#eccdce"><span style="left:6px;top:0.20px;transform:scaleX(0.977)">would</span><i style="background:#d5b6b9"></i></div><div class="c" style="left:1073px;top:551.00px;width:106px;height:31.00px;background:#eccdce"><span style="left:6px;top:0.50px;letter-spacing:0.03px;margin-right:-0.03px">write</span><i style="background:#d5b6b9"></i></div><div class="c" style="left:1073px;top:582.00px;width:106px;height:32.00px;background:#d9d3e6"><span style="left:6px;top:0.25px;transform:scaleX(0.985)">yellow</span><i style="background:#c6c0d5"></i></div><div class="c" style="left:1073px;top:614.00px;width:106px;height:31.00px;background:#ffffff"><span style="left:6px;top:0.05px;transform:scaleX(0.905)">yes</span><i style="background:#c6c0d5"></i></div><div class="c" style="left:1073px;top:645.00px;width:106px;height:32.00px;background:#eccdce"><span style="left:6px;top:0.05px;transform:scaleX(0.968)">you</span><i style="background:#d5b6b9"></i></div><div class="c" style="left:1073px;top:677.00px;width:106px;height:30.00px;background:#eccdce"><span style="left:6px;top:-0.15px;transform:scaleX(0.968)">your</span><i style="background:#d5b6b9"></i></div>
<div class="key"></div>
<div class="kin"></div>
<div class="kr" style="left:200px;width:819px;top:781px;height:1px;background:#dfe1e1"></div>
<div style="position:absolute;left:200px;top:781px;width:1px;height:218px;background:#dfe1e1"></div>
<div class="kr" style="top:782px;height:55px;"><span style="top:11px;transform:scaleX(0.99)">Key:</span></div>
<div class="kr" style="left:200px;width:819px;top:837px;height:1px;background:#dfe1e1"></div>
<div class="kr" style="top:838px;height:53px;"><span style="top:9.5px;transform:scaleX(0.948)">Flash Words</span></div>
<div class="kr" style="top:891px;height:54px;background:#eccdce;border-top:1px solid #d5b6b9;border-left:1px solid #d5b6b9"><span style="left:6px;top:9px;transform:scaleX(1.010)">Heart Words (permanent)</span></div>
<div class="kr" style="top:945px;height:54px;background:#d9d3e6;border-top:1px solid #c6c0d5;border-bottom:1px solid #c6c0d5;border-left:1px solid #c6c0d5"><span style="top:9px;transform:scaleX(0.994)">Temporary Heart Words</span></div>
</body></html>
